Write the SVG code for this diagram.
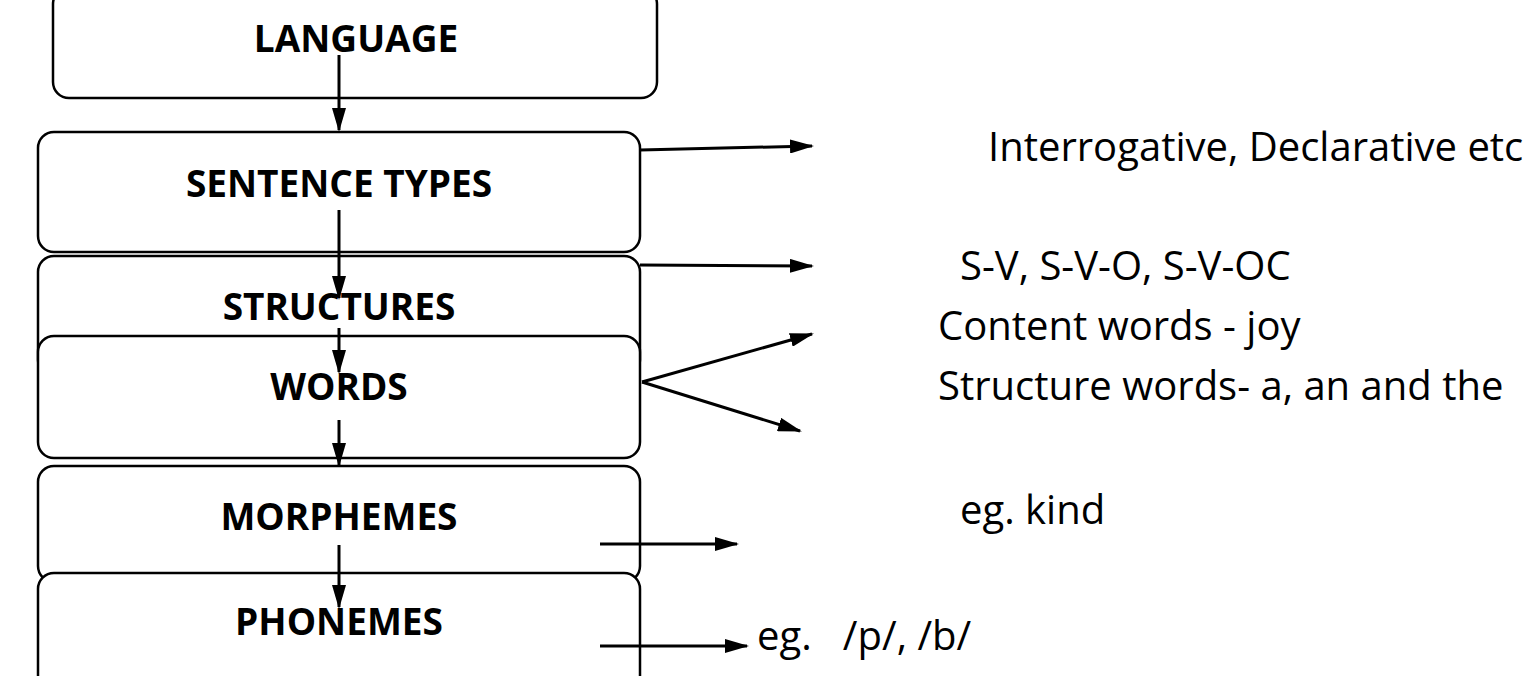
<svg xmlns="http://www.w3.org/2000/svg" width="1535" height="676" viewBox="0 0 1535 676">
<style>
.b{fill:#fff;stroke:#000;stroke-width:2.5}
.l{font-family:"Open Sans","Liberation Sans",sans-serif;font-weight:bold;font-size:37px;text-anchor:middle}
.t{font-family:"Open Sans","Liberation Sans",sans-serif;font-size:40px}
.c{stroke:#000;stroke-width:3;fill:none;marker-end:url(#a)}
</style>
<defs><marker id="a" viewBox="0 0 24 14" refX="22" refY="7" markerWidth="24" markerHeight="14" orient="auto" markerUnits="userSpaceOnUse"><path d="M0,0L24,7L0,14z"/></marker></defs>
<rect width="1535" height="676" fill="#fff"/>
<g id="n1"><rect class="b" x="53" y="-12" width="604" height="110" rx="16"/><text class="l" x="356" y="52">LANGUAGE</text></g>
<g id="n2"><rect class="b" x="38" y="132" width="602" height="120" rx="16"/><text class="l" x="339" y="197">SENTENCE TYPES</text></g>
<g id="n3"><rect class="b" x="38" y="256" width="602" height="120" rx="16"/><text class="l" x="339" y="320">STRUCTURES</text></g>
<g id="n4"><rect class="b" x="38" y="336" width="602" height="122" rx="16"/><text class="l" x="339" y="400">WORDS</text></g>
<g id="n5"><rect class="b" x="38" y="466" width="602" height="116" rx="16"/><text class="l" x="339" y="530">MORPHEMES</text></g>
<g id="n6"><rect class="b" x="38" y="573" width="602" height="120" rx="16"/><text class="l" x="339" y="635">PHONEMES</text></g>
<g id="connectors">
<path class="c" d="M339,55V130"/>
<path class="c" d="M339,210V298"/>
<path class="c" d="M339,328V372"/>
<path class="c" d="M339,420V465"/>
<path class="c" d="M339,545V607"/>
<path class="c" d="M640,150L812,146"/>
<path class="c" d="M640,265L812,266"/>
<path class="c" d="M642,382L812,334"/>
<path class="c" d="M642,382L800,431"/>
<path class="c" d="M600,544H737"/>
<path class="c" d="M600,646H747"/>
</g>
<text class="t" x="988" y="161">Interrogative, Declarative etc</text>
<text class="t" x="960" y="280">S-V, S-V-O, S-V-OC</text>
<text class="t" x="938" y="340">Content words - joy</text>
<text class="t" x="938" y="400">Structure words- a, an and the</text>
<text class="t" x="960" y="524">eg. kind</text>
<text class="t" x="757" y="650" xml:space="preserve">eg.   /p/, /b/</text>
</svg>
